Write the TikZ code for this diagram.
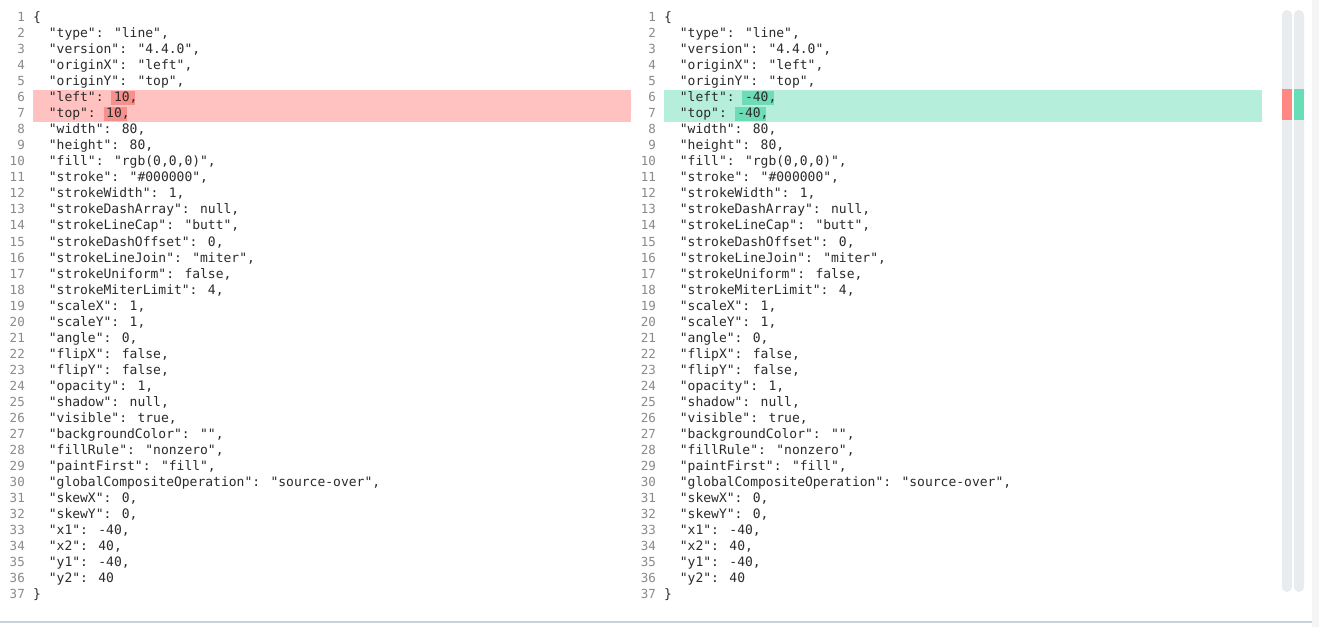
\documentclass[tikz,border=0pt]{standalone}
\usepackage{fontspec}
\newfontfamily\codefont{DejaVu Sans Mono}
\definecolor{txt}{HTML}{2B2B2B}
\definecolor{numc}{HTML}{8A8A8A}
\definecolor{redl}{HTML}{FFC2C0}
\definecolor{redd}{HTML}{F6908C}
\definecolor{grnl}{HTML}{B5EEDA}
\definecolor{grnd}{HTML}{6EDDB7}
\definecolor{track}{HTML}{E8ECEF}
\tikzset{
  num/.style={anchor=base east,inner sep=0pt,text=numc,font=\codefont\fontsize{12.5}{14}\selectfont},
  code/.style={anchor=base west,inner sep=0pt,text=txt,font=\codefont\fontsize{13}{15}\selectfont},
}
\newcommand\Ln[3]{% line number, indent x offset, text
  \pgfmathsetmacro\yy{17+16.03*(#1-1)+4.6}
  \node[num] (ln#1) at (25,\yy) {#1};
  \node[code] (lc#1) at (33+#2,\yy) {#3};
  \node[num] (rn#1) at (656,\yy) {#1};
  \node[code] (rc#1) at (664+#2,\yy) {#3};}
\begin{document}
\begin{tikzpicture}[x=1pt,y=-1pt]
\useasboundingbox (0,0) rectangle (1319,627);
\fill[white] (0,0) rectangle (1319,627);
\fill[black!4] (1312,0) rectangle (1319,627);
\draw[color={rgb,255:red,200;green,210;blue,218},line width=1.2pt] (0,622) -- (1312,622);
% highlights
\fill[redl] (33,90) rectangle (631,122);
\fill[grnl] (664,90) rectangle (1262,122);
\fill[redd] (111.3,91) rectangle (134.8,105);
\fill[redd] (103.5,107) rectangle (127,121);
\fill[grnd] (742.3,91) rectangle (773.6,105);
\fill[grnd] (734.5,107) rectangle (765.8,121);
% scroll tracks
\fill[track,rounded corners=5pt] (1282,10) rectangle (1292,592);
\fill[track,rounded corners=5pt] (1294,10) rectangle (1304,592);
\fill[color={rgb,255:red,255;green,136;blue,130}] (1282,89) rectangle (1292,120);
\fill[color={rgb,255:red,104;green,222;blue,182}] (1294,89) rectangle (1304,120);
\def\ind{15.66}
\Ln{1}{0}{\{}
\Ln{2}{\ind}{"type": "line",}
\Ln{3}{\ind}{"version": "4.4.0",}
\Ln{4}{\ind}{"originX": "left",}
\Ln{5}{\ind}{"originY": "top",}
\pgfmathsetmacro\yy{17+16.03*5+4.6}
\node[num] (ln6) at (25,\yy) {6};
\node[code] (lc6) at (48.66,\yy) {"left": 10,};
\node[num] (rn6) at (656,\yy) {6};
\node[code] (rc6) at (679.66,\yy) {"left": -40,};
\pgfmathsetmacro\yy{17+16.03*6+4.6}
\node[num] (ln7) at (25,\yy) {7};
\node[code] (lc7) at (48.66,\yy) {"top": 10,};
\node[num] (rn7) at (656,\yy) {7};
\node[code] (rc7) at (679.66,\yy) {"top": -40,};
\Ln{8}{\ind}{"width": 80,}
\Ln{9}{\ind}{"height": 80,}
\Ln{10}{\ind}{"fill": "rgb(0,0,0)",}
\Ln{11}{\ind}{"stroke": "\#000000",}
\Ln{12}{\ind}{"strokeWidth": 1,}
\Ln{13}{\ind}{"strokeDashArray": null,}
\Ln{14}{\ind}{"strokeLineCap": "butt",}
\Ln{15}{\ind}{"strokeDashOffset": 0,}
\Ln{16}{\ind}{"strokeLineJoin": "miter",}
\Ln{17}{\ind}{"strokeUniform": false,}
\Ln{18}{\ind}{"strokeMiterLimit": 4,}
\Ln{19}{\ind}{"scaleX": 1,}
\Ln{20}{\ind}{"scaleY": 1,}
\Ln{21}{\ind}{"angle": 0,}
\Ln{22}{\ind}{"flipX": false,}
\Ln{23}{\ind}{"flipY": false,}
\Ln{24}{\ind}{"opacity": 1,}
\Ln{25}{\ind}{"shadow": null,}
\Ln{26}{\ind}{"visible": true,}
\Ln{27}{\ind}{"backgroundColor": "",}
\Ln{28}{\ind}{"fillRule": "nonzero",}
\Ln{29}{\ind}{"paintFirst": "fill",}
\Ln{30}{\ind}{"globalCompositeOperation": "source-over",}
\Ln{31}{\ind}{"skewX": 0,}
\Ln{32}{\ind}{"skewY": 0,}
\Ln{33}{\ind}{"x1": -40,}
\Ln{34}{\ind}{"x2": 40,}
\Ln{35}{\ind}{"y1": -40,}
\Ln{36}{\ind}{"y2": 40}
\Ln{37}{0}{\}}
\end{tikzpicture}
\end{document}
